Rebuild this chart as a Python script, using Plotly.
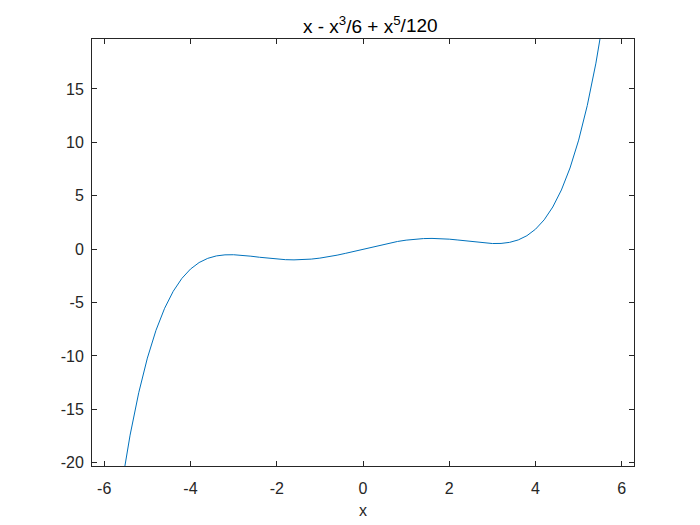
import plotly.graph_objects as go

# sampled points of the plotted curve (positive half; curve is odd-symmetric)
x_pos = [0.0, 0.2, 0.4, 0.6, 0.8, 1.0, 1.2, 1.4, 1.6, 1.8, 2.0, 2.2, 2.4, 2.6, 2.8,
         3.0, 3.2, 3.4, 3.6, 3.8, 4.0, 4.2, 4.4, 4.6, 4.8, 5.0, 5.2, 5.4, 5.6, 5.8]
y_pos = [0.0, 0.198669, 0.389419, 0.564648, 0.717397, 0.841667, 0.932736, 0.987485,
         1.004715, 0.985464, 0.933333, 0.854803, 0.759552, 0.660781, 0.575531,
         0.525, 0.534869, 0.635619, 0.862848, 1.257597, 1.866667, 2.742936,
         3.945685, 5.540915, 7.601664, 10.208333, 13.449003, 17.419752,
         22.224981, 27.97773]

x_vals = [-v for v in reversed(x_pos[1:])] + x_pos
y_vals = [-v for v in reversed(y_pos[1:])] + y_pos

x_ticks = [-6, -4, -2, 0, 2, 4, 6]
x_tick_labels = ["-6", "-4", "-2", "0", "2", "4", "6"]
y_ticks = [-20, -15, -10, -5, 0, 5, 10, 15]
y_tick_labels = ["-20", "-15", "-10", "-5", "0", "5", "10", "15"]

title_text = "x - x<sup>3</sup>/6 + x<sup>5</sup>/120"
x_label = "x"

FONT = "Liberation Sans, Arial, Helvetica"

fig = go.Figure()
fig.add_trace(go.Scatter(x=x_vals, y=y_vals, mode="lines",
                         line=dict(color="#0072BD", width=1), showlegend=False))

axis_common = dict(showline=True, linecolor="#262626", linewidth=1, mirror="ticks",
                   ticks="inside", ticklen=5, tickcolor="#262626", showgrid=False,
                   zeroline=False, tickfont=dict(family=FONT, size=16, color="#262626"))

fig.update_layout(
    width=700, height=525,
    paper_bgcolor="white", plot_bgcolor="white",
    margin=dict(l=84, r=74, t=31, b=67),
    title=dict(text=title_text, x=0.5175, xanchor="center", y=0.966, yanchor="middle",
               font=dict(family=FONT, size=19, color="black")),
    xaxis=dict(range=[-6.2832, 6.2832], tickvals=x_ticks, ticktext=x_tick_labels,
               ticklabelstandoff=8,
               title=dict(text=x_label, font=dict(family=FONT, size=16, color="#262626"), standoff=8),
               **axis_common),
    yaxis=dict(range=[-20.31, 19.68], tickvals=y_ticks, ticktext=y_tick_labels,
               ticklabelstandoff=4, **axis_common),
)

fig.write_html("out.html")
